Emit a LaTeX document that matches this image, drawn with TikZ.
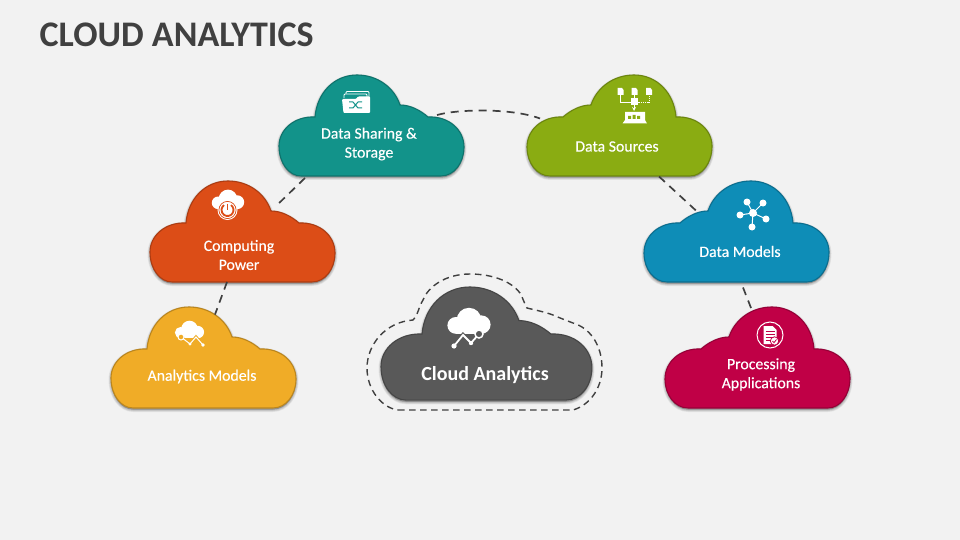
\documentclass[tikz,border=0pt]{standalone}
\usepackage{fontspec}
\setmainfont{Carlito}
\newfontfamily\labelfont[FakeBold=0.3]{Carlito}
\definecolor{pagebg}{HTML}{F2F2F2}
\definecolor{titlegray}{HTML}{404040}
\definecolor{cTeal}{HTML}{12938A}
\definecolor{cGreen}{HTML}{8AAC12}
\definecolor{cOrange}{HTML}{DC4D17}
\definecolor{cYellow}{HTML}{F0AC27}
\definecolor{cBlue}{HTML}{0E8DB7}
\definecolor{cCrimson}{HTML}{C00046}
\definecolor{cGray}{HTML}{595959}
\tikzset{
  cloudpath/.style={insert path={
    (22,101) -- (162,101) .. controls (175,101) and (185,88) .. (185,72)
    .. controls (185,55) and (170,41) .. (149,42)
    .. controls (141,35) and (131,30) .. (121,30)
    .. controls (115,12) and (98,0) .. (78,0)
    .. controls (55,0) and (38,18) .. (36,42)
    .. controls (15,41) and (0,55) .. (0,71)
    .. controls (0,88) and (10,101) .. (22,101) -- cycle}},
  pics/cloudshape/.style={code={
    \foreach \i in {1,...,5}
      \fill [black, fill opacity=0.05, draw=black, draw opacity=0.05, line width=\i pt, shift={(0,1.5)}, cloudpath];
    \draw [fill=#1, draw=#1!78!black, line width=1.1pt, cloudpath];
  }},
  pics/iconcloud/.style={code={
    \fill [white] (-0.66,0.12) circle [radius=0.42];
    \fill [white] (0,-0.14) circle [radius=0.62];
    \fill [white] (0.62,0.08) circle [radius=0.46];
    \fill [white] (-0.66,-0.1) rectangle (0.62,0.54);
  }},
  cloudlabel/.style={text=white, font=\labelfont\fontsize{15.8}{19}\selectfont, align=center, inner sep=0pt},
  link/.style={draw=titlegray, line width=1.7pt, dash pattern=on 8pt off 6pt},
  spoke/.style={draw=white, line width=1pt}
}
\begin{document}
\begin{tikzpicture}[x=1pt, y=-1pt]
\useasboundingbox (0,0) rectangle (960,540);
\fill [pagebg] (0,0) rectangle (960,540);

\node [text=titlegray, font=\bfseries\fontsize{36}{38}\selectfont, anchor=west, inner sep=0pt] (title) at (39.5,35) {CLOUD ANALYTICS};

% clouds
\pic at (279,75) {cloudshape=cTeal};
\pic [xscale=-1] at (712,75) {cloudshape=cGreen};
\pic at (150,181) {cloudshape=cOrange};
\pic [xscale=-1] at (829,181) {cloudshape=cBlue};
\pic at (111,307) {cloudshape=cYellow};
\pic [xscale=-1] at (850,307) {cloudshape=cCrimson};
\pic [xscale=1.14, yscale=1.12] at (381,287) {cloudshape=cGray};

\node [cloudlabel] (sharing) at (369,144) {Data Sharing \&\\Storage};
\node [cloudlabel] (sources) at (617,146.5) {Data Sources};
\node [cloudlabel] (computing) at (239,255) {Computing\\Power};
\node [cloudlabel] (models) at (740,251.5) {Data Models};
\node [cloudlabel] (analytics) at (202,376.5) {Analytics Models};
\node [cloudlabel] (processing) at (761,374.5) {Processing\\Applications};
\node [cloudlabel, font=\bfseries\fontsize{20}{24}\selectfont] (center) at (485,375.5) {Cloud Analytics};

% connectors
\draw [link] ([shift={(68,-29)}]sharing.center) .. controls (458,109) and (512,108) .. ([shift={(-77,-28)}]sources.center);
\draw [link] ([shift={(-64,34)}]sharing.center) -- ([shift={(36,-48)}]computing.center);
\draw [link] ([shift={(-12,27)}]computing.center) -- ([shift={(13,-62)}]analytics.center);
\draw [link] ([shift={(42,30)}]sources.center) -- ([shift={(-43,-40)}]models.center);
\draw [link] ([shift={(3,36)}]models.center) -- ([shift={(-9,-64)}]processing.center);

\draw [link, line width=1.4pt, dash pattern=on 6.5pt off 4.5pt] (398,410) -- (573,410) .. controls (590,405) and (602,388) .. (602,368)
  .. controls (602,345) and (590,328) .. (573,323) .. controls (565,320) and (560,318) .. (553,315)
  .. controls (545,312) and (535,310) .. (527,308) .. controls (524,303) and (523,298) .. (520,293)
  .. controls (510,280) and (490,274) .. (470,274) .. controls (445,274) and (428,287) .. (423,300)
  .. controls (418,308) and (418,316) .. (413,320) .. controls (385,322) and (367,345) .. (367,368)
  .. controls (367,390) and (382,408) .. (398,410) -- cycle;

% folder icon
\draw [white, line width=0.9pt, rounded corners=1pt] (344,98) -- (344,94) -- (367,94) -- (367,98);
\draw [white, line width=0.9pt, rounded corners=1pt] (346,94) -- (346,91.5) -- (369,91.5) -- (369,100);
\fill [white, rounded corners=1pt] (342,99) -- (356,99) -- (358,96.5) -- (370,96.5) -- (370,113) -- (343.5,113) -- cycle;
\draw [cTeal, line width=1pt] (349,102) -- (353,102) -- (358,108) -- (362,108) (349,108) -- (353,108) -- (358,102) -- (362,102);

% sources icon
\foreach \x in {620.5,634.5,649}
  \fill [white] (\x-3,88) -- (\x+1.5,88) -- (\x+3,90) -- (\x+3,95) -- (\x-3,95) -- cycle;
\draw [spoke, line width=0.8pt] (620.5,95) -- (620.5,102) -- (634,102) (634,95) -- (634,102);
\draw [spoke, line width=0.8pt, densely dotted] (634,102) -- (649,102) -- (649,96);
\fill [white] (630.5,98.5) rectangle (638,105.5);
\draw [spoke, line width=0.8pt, -stealth] (634,105) -- (634,111);
\fill [white] (625,112) -- (645,112) -- (645,120) -- (647,123.5) -- (622.5,123.5) -- (625,120) -- cycle;
\fill [cGreen] (628,116) rectangle (631,119) (632.5,115) rectangle (635.5,119) (637,116) rectangle (640,119);

% power icon
\pic [scale=15] at (228,201) {iconcloud};
\fill [white] (227.5,210) circle [radius=10];
\draw [cOrange, line width=1.8pt] (227.5,210) ++ (-55:6) arc [start angle=-55, end angle=235, radius=6];
\draw [cOrange, line width=1.8pt] (227.5,203.5) -- (227.5,210);
\draw [cOrange, line width=0.7pt] (227.5,210) circle [radius=8.6];

% network icon
\foreach \x/\y in {747/202,763/203,766/219,752/227,740/215}
  \draw [spoke] (753,213) -- (\x,\y);
\fill [white] (753,213) circle [radius=4];
\foreach \x/\y in {747/202,763/203,766/219,752/227,740/215}
  \fill [white] (\x,\y) circle [radius=3.5];

% document icon
\draw [white, line width=1pt] (770,335) circle [radius=13];
\fill [white] (763.5,326) -- (772.5,326) -- (776.5,330) -- (776.5,344) -- (763.5,344) -- cycle;
\foreach \y in {331,334,337,340}
  \draw [cCrimson, line width=0.7pt] (765.5,\y) -- (774.5,\y);
\fill [white, draw=cCrimson, line width=0.8pt] (774.5,341) circle [radius=4.2];
\draw [cCrimson, line width=0.8pt] (772.5,341) -- (774,342.7) -- (776.5,339.5);

% small chart cloud
\pic [scale=13.5] at (189.5,331) {iconcloud};
\draw [cYellow, line width=3pt] (181,337) -- (190,344) -- (196,337) -- (203,345);
\draw [white, line width=1pt] (181,337) -- (190,344) -- (196,337) -- (203,345);
\fill [white] (203,345) circle [radius=1.8] (190,344) circle [radius=1.6];
\draw [white, fill=cYellow, line width=1pt] (181,337) circle [radius=3];

% big chart cloud
\pic [scale=20] at (469,323) {iconcloud};
\draw [cGray, line width=4pt] (454,346) -- (463,335) -- (471,343) -- (479,334);
\draw [white, line width=1.8pt] (454,346) -- (463,335) -- (471,343) -- (479,334);
\fill [white] (454,346) circle [radius=2.6] (471,343) circle [radius=2.2];
\draw [white, fill=cGray, line width=1.5pt] (479,334) circle [radius=4];
\end{tikzpicture}
\end{document}
